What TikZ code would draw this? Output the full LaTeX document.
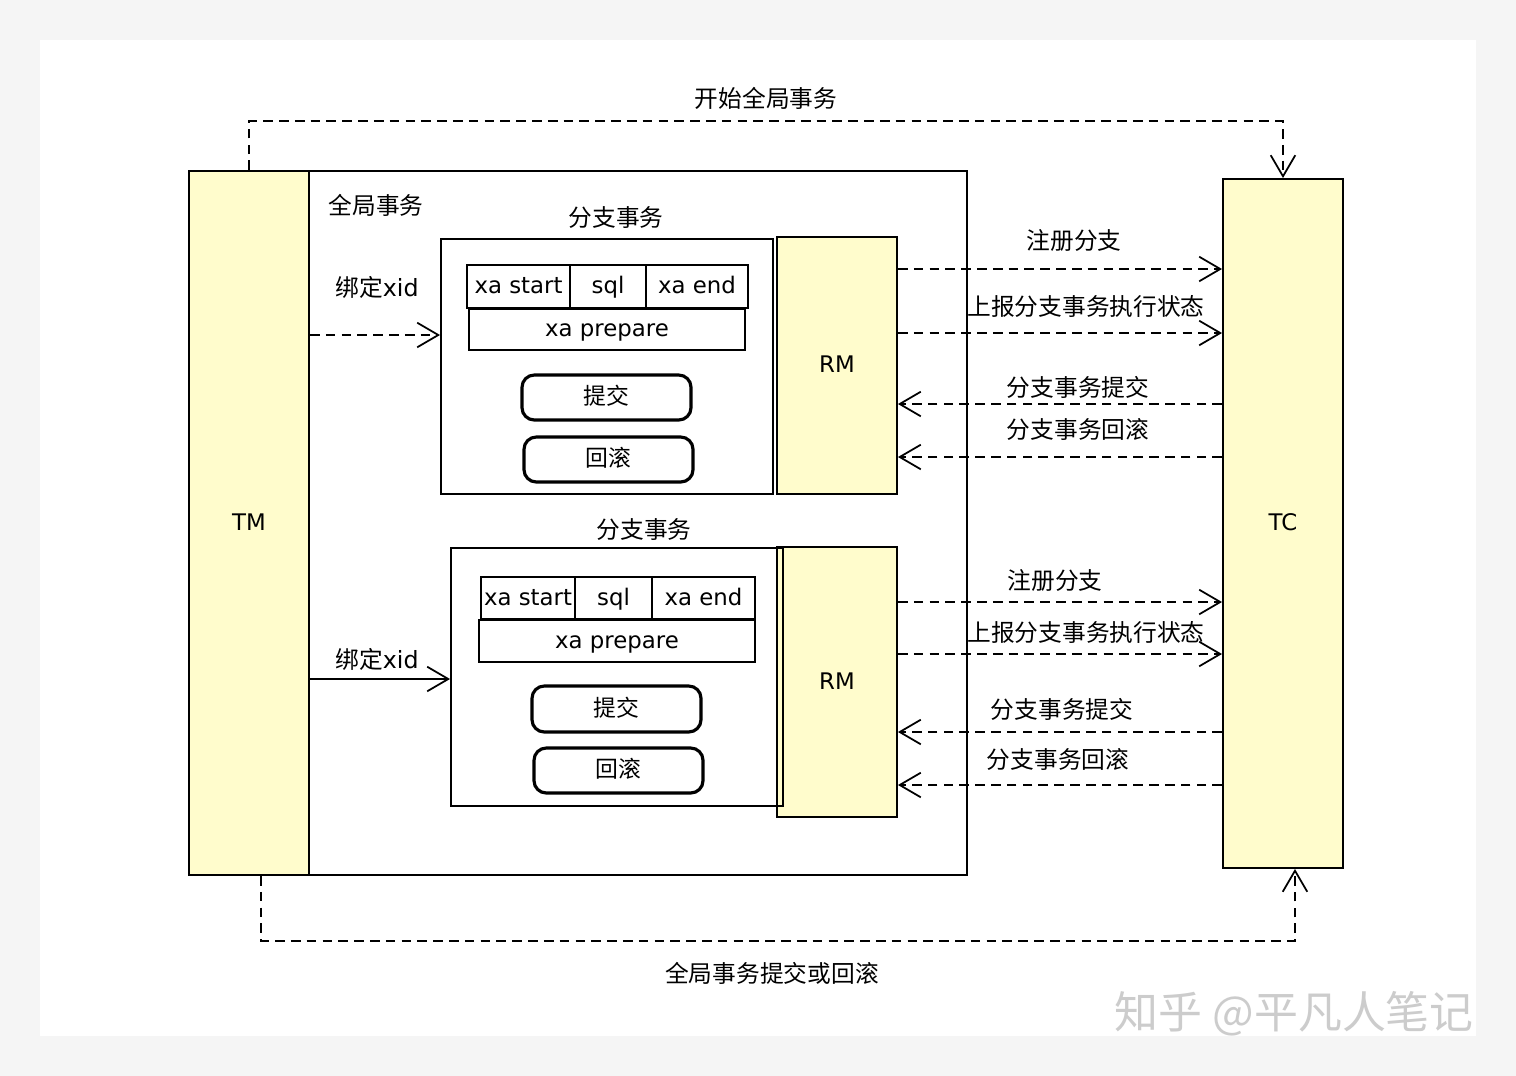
\documentclass[tikz,border=0pt]{standalone}
\usepackage{fontspec}
\setmainfont{DejaVu Sans}
\newfontfamily\cjk{Noto Sans CJK SC}
\usepackage{tikz}
\usetikzlibrary{arrows.meta,positioning,fit,calc}
\definecolor{noteyellow}{RGB}{255,252,204}
\definecolor{shadowgray}{RGB}{245,245,245}

\begin{document}
\begin{tikzpicture}[x=0.02cm,y=-0.02cm,
                    font=\fontsize{13}{16}\selectfont,
                    every label/.style={text height=10.5pt,text depth=2pt,inner sep=0pt},
                    box/.style={draw,line width=1.1pt,inner sep=0pt},
                    yellow box/.style={box,fill=noteyellow},
                    round box/.style={draw,line width=1.8pt,rounded corners=7pt,inner sep=0pt},
                    dash link/.style={line width=1pt,dash pattern=on 5.5pt off 3.5pt,
                                      -{Straight Barb[length=12pt,width=14pt,line width=1pt]}},
                    plain link/.style={line width=1pt,-{Straight Barb[length=12pt,width=14pt,line width=1pt]}},
                    tag/.style={inner sep=1pt,font=\fontsize{13.5}{16}\selectfont}]
 % card
 \fill[shadowgray] (0,0) rectangle (1516,1076);
 \fill[white] (40,40) rectangle (1476,1036);
 \useasboundingbox (0,0) rectangle (1516,1076);

 \node[box, fit={(189,171)(967,875)}] (GlobalBox) {};
 \node[tag] (GlobalLabel) at (376,205) {\cjk 全局事务};

 \node[yellow box, fit={(189,171)(309,875)}, label=center:TM] (TM) {};
 \node[yellow box, fit={(1223,179)(1343,868)}, label=center:TC] (TC) {};

 % first branch
 \node[tag] (BranchLabelOne) at (616,218) {\cjk 分支事务};
 \node[box, fill=white, fit={(441,239)(773,494)}] (BranchOne) {};
 \node[box, fit={(467,265)(570,308)}, label=center:{xa start}] (StartOne) {};
 \node[box, fit={(570,265)(646,308)}, label=center:sql] (SqlOne) {};
 \node[box, fit={(646,265)(748,308)}, label=center:{xa end}] (EndOne) {};
 \node[box, fit={(469,309)(745,350)}, label=center:{xa prepare}] (PrepareOne) {};
 \node[round box, fit={(522,375)(691,420)}, label=center:{\cjk 提交}] (CommitOne) {};
 \node[round box, fit={(524,437)(693,482)}, label=center:{\cjk 回滚}] (RollbackOne) {};
 \node[yellow box, fit={(777,237)(897,494)}, label=center:RM] (RMOne) {};

 % second branch
 \node[tag] (BranchLabelTwo) at (644,530) {\cjk 分支事务};
 \node[yellow box, fit={(777,547)(897,817)}, label=center:RM] (RMTwo) {};
 \node[box, fit={(451,548)(783,806)}] (BranchTwo) {};
 \node[box, fit={(481,577)(575,619)}, label=center:{xa start}] (StartTwo) {};
 \node[box, fit={(575,577)(652,619)}, label=center:sql] (SqlTwo) {};
 \node[box, fit={(652,577)(755,619)}, label=center:{xa end}] (EndTwo) {};
 \node[box, fit={(479,620)(755,662)}, label=center:{xa prepare}] (PrepareTwo) {};
 \node[round box, fit={(532,686)(701,732)}, label=center:{\cjk 提交}] (CommitTwo) {};
 \node[round box, fit={(534,748)(703,793)}, label=center:{\cjk 回滚}] (RollbackTwo) {};

 % bind xid
 \node[tag] (BindLabelOne) at (377,287) {{\cjk 绑定}xid};
 \node[tag] (BindLabelTwo) at (377,659) {{\cjk 绑定}xid};
 \draw[dash link] (TM.east |- 0,335) -- (BranchOne.west |- 0,335);
 \draw[plain link] (TM.east |- 0,679) -- (BranchTwo.west |- 0,679);

 % RM -> TC
 \foreach \y/\lx/\ly/\txt in {269/1074/241/注册分支, 333/1086/306/上报分支事务执行状态}
   {\draw[dash link] (RMOne.east |- 0,\y) -- (TC.west |- 0,\y);
    \node[tag] (Up\y) at (\lx,\ly) {\cjk \txt};}
 \foreach \y/\lx/\ly/\txt in {602/1055/581/注册分支, 654/1086/632/上报分支事务执行状态}
   {\draw[dash link] (RMTwo.east |- 0,\y) -- (TC.west |- 0,\y);
    \node[tag] (Up\y) at (\lx,\ly) {\cjk \txt};}

 % TC -> RM
 \foreach \y/\lx/\ly/\txt in {404/1078/387/分支事务提交, 457/1078/429/分支事务回滚}
   {\draw[dash link] (TC.west |- 0,\y) -- (RMOne.east |- 0,\y);
    \node[tag] (Down\y) at (\lx,\ly) {\cjk \txt};}
 \foreach \y/\lx/\ly/\txt in {732/1062/709/分支事务提交, 785/1058/759/分支事务回滚}
   {\draw[dash link] (TC.west |- 0,\y) -- (RMTwo.east |- 0,\y);
    \node[tag] (Down\y) at (\lx,\ly) {\cjk \txt};}

 % TM <-> TC
 \draw[dash link] (TM.north) -- (TM.north |- 0,121) -| (TC.north);
 \node[tag] (StartLabel) at (766,98) {\cjk 开始全局事务};
 \draw[dash link] ([xshift=0.24cm]TM.south) -- ++(0,65) -| ([xshift=0.24cm]TC.south);
 \node[tag] (EndLabel) at (772,973) {\cjk 全局事务提交或回滚};

 \node[text=gray!40, font=\cjk\fontsize{25}{30}\selectfont, anchor=east] (Watermark) at (1480,1014) {知乎 @平凡人笔记};

\end{tikzpicture}
\end{document}
